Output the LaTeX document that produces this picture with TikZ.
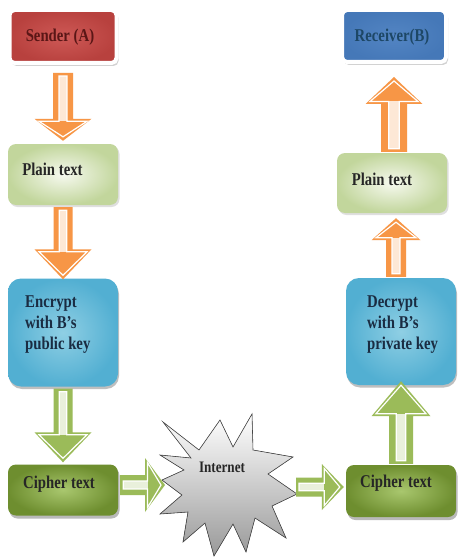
\documentclass[tikz,border=0pt]{standalone}
\usepackage{fontspec}
\setmainfont{Liberation Serif}[FakeStretch=0.82]
\usetikzlibrary{calc,shadows}
\definecolor{arrOr}{HTML}{F79646}
\definecolor{arrGr}{HTML}{9BBB59}
\definecolor{redIn}{HTML}{CE5956}
\definecolor{redOut}{HTML}{B8413E}
\definecolor{bluIn}{HTML}{5385C3}
\definecolor{bluOut}{HTML}{4578B8}
\definecolor{plIn}{HTML}{F6F9EF}
\definecolor{plOut}{HTML}{C2D69C}
\definecolor{cyIn}{HTML}{8FCFE4}
\definecolor{cyOut}{HTML}{52AFD2}
\definecolor{olIn}{HTML}{A9C76E}
\definecolor{olOut}{HTML}{6E8E2F}
\definecolor{txRed}{HTML}{5A1616}
\definecolor{txBlu}{HTML}{1D4766}
\definecolor{txNavy}{HTML}{1A2C42}
\newcommand\fatarrow[6]{%
  \path let \p1=(#2), \p2=(#3) in \pgfextra{%
    \pgfmathsetmacro\faang{atan2(\y2-\y1,\x2-\x1)}%
    \pgfmathsetmacro\falen{veclen(\x2-\x1,\y2-\y1)}%
    \global\let\faang\faang \global\let\falen\falen};
  \begin{scope}[shift={(#2)}, rotate=\faang, x=1pt, y=1pt]
    \pgfmathsetmacro\fb{\falen-#6}
    \pgfmathsetmacro\fw{#4*0.4}
    \pgfmathsetmacro\fH{#5-4.5}
    \pgfmathsetmacro\fc{\fb+2.5}
    \pgfmathsetmacro\ft{\falen-4}
    \fill[#1] (0,-#4) -- (\fb,-#4) -- (\fb,-#5) -- (\falen,0) -- (\fb,#5) -- (\fb,#4) -- (0,#4) -- cycle;
    \fill[#1!22!white] (3,-\fw) rectangle (\fc,\fw);
    \draw[white, line width=1.2pt, line join=miter]
      (3,-\fw) -- (\fc,-\fw) -- (\fc,-\fH) -- (\ft,0) -- (\fc,\fH) -- (\fc,\fw) -- (3,\fw) -- cycle;
  \end{scope}}
\begin{document}
\begin{tikzpicture}[x=1pt,y=-1pt,
  lbl/.style={font=\fontsize{18}{21}\selectfont\bfseries, inner sep=0pt},
  boxbase/.style={inner sep=0pt, shape=rectangle},
  redbox/.style={boxbase, rounded corners=5pt, minimum width=107pt, minimum height=53pt,
     inner color=redIn, outer color=redOut, draw=white, line width=4pt,
     drop shadow={shadow xshift=2pt, shadow yshift=-3pt, opacity=.35}},
  blubox/.style={boxbase, rounded corners=5pt, minimum width=104pt, minimum height=52pt,
     inner color=bluIn, outer color=bluOut, draw=white, line width=4pt,
     drop shadow={shadow xshift=2pt, shadow yshift=-3pt, opacity=.35}},
  plainbox/.style={boxbase, rounded corners=8pt, minimum width=110pt, minimum height=61pt,
     inner color=plIn, outer color=plOut,
     drop shadow={shadow xshift=1.5pt, shadow yshift=-2pt, opacity=.25}},
  cybox/.style={boxbase, rounded corners=13pt, minimum width=110pt, minimum height=108pt,
     inner color=cyIn, outer color=cyOut,
     drop shadow={shadow xshift=1pt, shadow yshift=-2.5pt, opacity=.5}},
  olbox/.style={boxbase, rounded corners=8pt, minimum width=110pt, minimum height=51pt,
     inner color=olIn, outer color=olOut,
     drop shadow={shadow xshift=1.5pt, shadow yshift=-3pt, opacity=.55}},
  burst/.style={top color=white, bottom color=gray!80, draw=gray!55!black, line width=0.6pt, line join=miter}
]
\useasboundingbox (0,0) rectangle (474,559);
\fill[white] (0,0) rectangle (474,559);

% boxes
\node[redbox] (sender) at (63,36.5) {};
\node[plainbox] (plain1) at (63,174.5) {};
\node[cybox] (encrypt) at (63,332.5) {};
\node[olbox] (cipher1) at (63,490) {};
\node[olbox, minimum height=52pt] (cipher2) at (401,491) {};
\node[cybox, minimum height=107pt] (decrypt) at (401,331.5) {};
\node[plainbox, minimum height=60pt] (plain2) at (392,183) {};
\node[blubox] (receiver) at (394,36) {};

% starburst
\filldraw[burst] (163,422) -- (199,450) -- (220,420) -- (233,447) -- (252,414) -- (253,450)
  -- (293,457) -- (268,474) -- (297,494) -- (272,506) -- (286,538) -- (255,518)
  -- (246,552) -- (233,524) -- (214,556) -- (205,523) -- (183,542) -- (188,512)
  -- (160,514) -- (182,495) -- (162,480) -- (184,470) -- (160,455) -- (191,458) -- cycle;
\coordinate (netW) at (165,485);
\coordinate (netE) at (296,487);

% texts
\node[lbl, text=txRed, anchor=base] (senderT) at (60,42) {Sender (A)};
\node[lbl, text=txBlu, anchor=base] (receiverT) at (392,42) {Receiver(B)};
\node[lbl, text=black!85, anchor=base] (plain1T) at (52.5,175) {Plain text};
\node[lbl, text=black!85, anchor=base] (plain2T) at (382,185) {Plain text};
\node[lbl, text=txNavy, anchor=west, align=left] (encryptT) at (25,325) {Encrypt\\with B’s\\public key};
\node[lbl, text=txNavy, anchor=west, align=left] (decryptT) at (367,325) {Decrypt\\with B’s\\private key};
\node[lbl, text=black!85, anchor=base] (cipher1T) at (59,488) {Cipher text};
\node[lbl, text=black!85, anchor=base] (cipher2T) at (396,487) {Cipher text};
\node[font=\fontsize{16}{18}\selectfont\bfseries, inner sep=0pt, text=black!85, anchor=base] (internetT) at (222,472) {Internet};

% arrows
\fatarrow{arrOr}{$(sender.south)+(0,8)$}{$(plain1.north)+(0,-3)$}{10}{28.5}{22}
\fatarrow{arrOr}{$(plain1.south)+(0,2)$}{$(encrypt.north)+(0,1)$}{9.5}{28.5}{30}
\fatarrow{arrGr}{$(encrypt.south)+(0,2)$}{$(cipher1.north)+(0,-2)$}{9.5}{28.5}{30}
\fatarrow{arrGr}{$(cipher1.east)+(2,-5)$}{netW}{10}{27}{20}
\fatarrow{arrGr}{netE}{$(cipher2.west)+(-2,-4)$}{9.5}{23}{22}
\fatarrow{arrGr}{$(cipher2.north)+(0,-1)$}{$(decrypt.south)+(0,-4)$}{12}{29.5}{35}
\fatarrow{arrOr}{$(decrypt.north)+(-5,-1)$}{$(plain2.south)+(4,5)$}{10}{24.5}{22}
\fatarrow{arrOr}{$(plain2.north)+(2,-1)$}{$(receiver.south)+(0,13)$}{13}{28.5}{27}
\end{tikzpicture}
\end{document}
